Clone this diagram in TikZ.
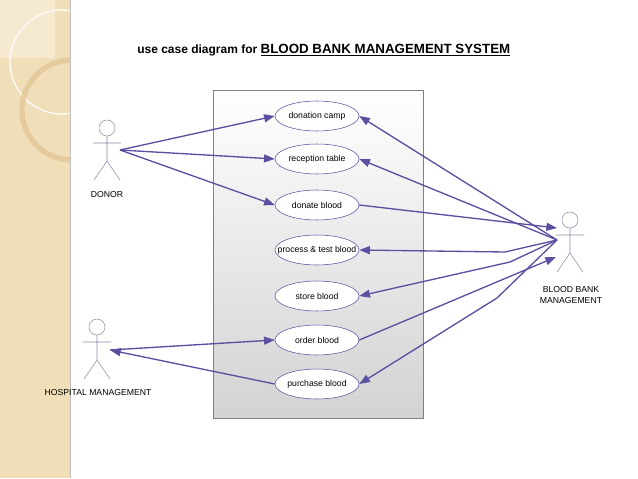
\documentclass[tikz,border=0pt]{standalone}
\usepackage{fontspec}
\setmainfont{Liberation Sans}
\usetikzlibrary{arrows.meta,shapes.geometric}
\definecolor{beige}{RGB}{240,222,184}
\definecolor{ln}{RGB}{90,80,160}
\definecolor{act}{RGB}{140,140,170}
\begin{document}
\begin{tikzpicture}[x=0.75pt,y=-0.75pt,
 uc/.style={draw=ln,fill=white,ellipse,minimum width=63pt,minimum height=22.5pt,inner sep=0pt,
   label={[font=\fontsize{6.5}{8}\selectfont]center:#1}},
 ar/.style={draw=ln,line width=1pt,-{Triangle[length=8pt,width=6pt]}},
 al/.style={font=\fontsize{6.5}{8}\selectfont,align=center}]
\useasboundingbox (0,0) rectangle (638,478);
\fill[white] (0,0) rectangle (638,478);
\fill[beige] (0,0) rectangle (70,478);
\fill[white,opacity=0.35] (0,0) rectangle (55,58);
\begin{scope}
\clip (0,0) rectangle (70,478);
\draw[white!90!beige,line width=1pt] (62,62) circle (52);
\draw[brown!30!beige,line width=4pt,opacity=0.7] (72,110) circle (50);
\end{scope}
\draw[gray!50,line width=0.5pt] (70,0) -- (70,478);
\node[font=\bfseries\fontsize{9}{11}\selectfont,anchor=west,inner sep=0] (t) at (137,50) {use case diagram for \underline{\fontsize{10}{12}\selectfont BLOOD BANK MANAGEMENT SYSTEM}};
\shade[top color=white,bottom color=gray!35,draw=gray] (213,90) rectangle (423,418);
\node[uc=donation camp] (a) at (317,116) {};
\node[uc=reception table] (b) at (317,159) {};
\node[uc=donate blood] (c) at (317,205) {};
\node[uc=process \& test blood] (d) at (317,250) {};
\node[uc=store blood] (e) at (317,296) {};
\node[uc=order blood] (f) at (317,340) {};
\node[uc=purchase blood] (g) at (317,384) {};
\foreach \n/\x/\y in {don/107/128,bb/570/220,hos/97/327}{
 \draw[act] (\x,\y) circle (8);
 \draw[act] (\x,\y+8) -- (\x,\y+33) (\x-14,\y+15) -- (\x+14,\y+15) (\x-13,\y+52) -- (\x,\y+33) -- (\x+13,\y+52);
 \coordinate (\n) at (\x,\y+20);
}
\node[al] (ld) at (107,195) {DONOR};
\node[al] (lb) at (571,295) {BLOOD BANK\\MANAGEMENT};
\node[al] (lh) at (98,393) {HOSPITAL MANAGEMENT};
\coordinate (dp) at (120,150);
\coordinate (bp) at (557,240);
\coordinate (hp) at (110,350);
\coordinate (bin) at (557,228);
\coordinate (bin2) at (556,257);
\draw[ar] (dp) -- (a.west);
\draw[ar] (dp) -- (b.west);
\draw[ar] (dp) -- (c.west);
\draw[ar] (hp) -- (f.west);
\draw[ar] (g.west) -- (hp);
\draw[ar] (bp) -- (a.east);
\draw[ar] (bp) -- (b.east);
\draw[ar] (c.east) -- (bin);
\draw[ar] (bp) -- (505,252) -- (d.east);
\draw[ar] (bp) -- (510,262) -- (e.east);
\draw[ar] (f.east) -- (bin2);
\draw[ar] (bp) -- (497,298) -- (g.east);
\end{tikzpicture}
\end{document}
